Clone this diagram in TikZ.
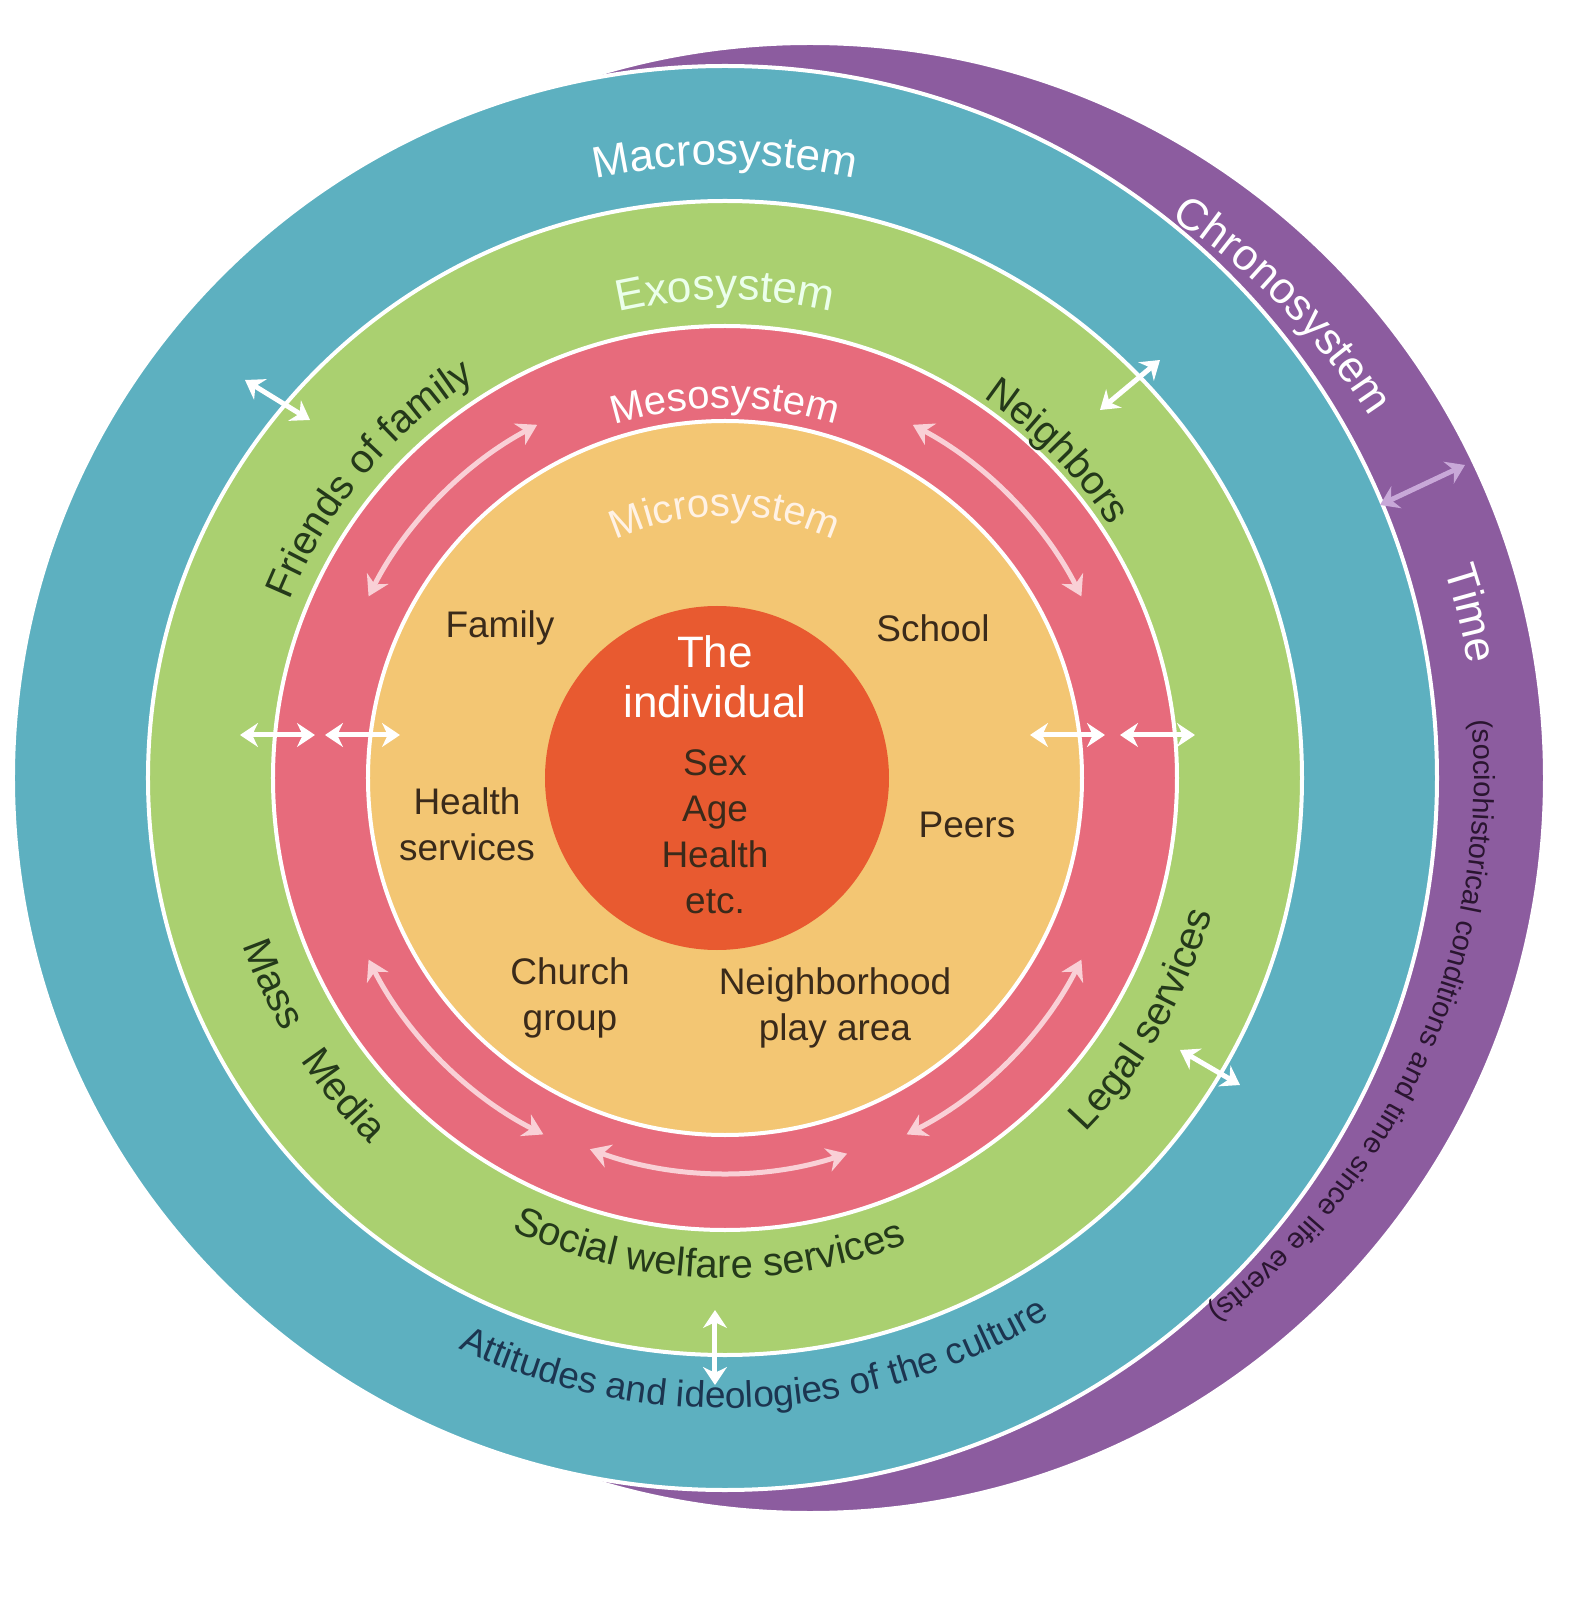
\documentclass[tikz,border=0pt]{standalone}
\usepackage{fontspec}
\setmainfont{Liberation Sans}
\usetikzlibrary{arrows.meta,decorations.text}
\definecolor{cblue}{HTML}{5DB0C0}
\definecolor{cgreen}{HTML}{AAD070}
\definecolor{cpink}{HTML}{E76B7C}
\definecolor{corange}{HTML}{F3C673}
\definecolor{cred}{HTML}{E85A30}
\definecolor{cpurple}{HTML}{8C5C9F}
\definecolor{cdark}{HTML}{3A2A1A}
\definecolor{cgtext}{HTML}{24391A}
\definecolor{cbtext}{HTML}{1C3550}
\definecolor{cptext}{HTML}{2A1530}
\definecolor{lpink}{HTML}{F9D0D6}
\definecolor{lpurple}{HTML}{C8A8D8}
\newcommand{\fA}{\fontsize{44}{50}\selectfont}
\newcommand{\fB}{\fontsize{40}{46}\selectfont}
\newcommand{\fC}{\fontsize{37}{46}\selectfont}
\newcommand{\fD}{\fontsize{29}{34}\selectfont}
\tikzset{
  ring/.style={draw=white,line width=4pt},
  curv/.style={decorate,decoration={text along path,text align=center,text format delimiters={|}{|},text={#1}}},
  curvl/.style={decorate,decoration={text along path,text align=left,text format delimiters={|}{|},text={#1}}},
  warrow/.style={white,line width=5pt,{Stealth[length=18pt,width=24pt]}-{Stealth[length=18pt,width=24pt]}},
  parrow/.style={lpink,line width=5pt,{Stealth[length=20pt,width=24pt]}-{Stealth[length=20pt,width=24pt]}},
  lbl/.style={text=cdark,font=\fC,align=center,inner sep=0pt}
}
\begin{document}
\begin{tikzpicture}[x=1pt,y=1pt]
\useasboundingbox (-725,-820) rectangle (851,778);
\fill[white] (-725,-820) rectangle (851,778);
% rings
\draw[ring,fill=cpurple] (85,0) circle[radius=735pt];
\draw[ring,fill=cblue] (0,0) circle[radius=712pt];
\draw[ring,fill=cgreen] (0,0) circle[radius=577pt];
\draw[ring,fill=cpink] (0,0) circle[radius=452pt];
\draw[ring,fill=corange] (0,0) circle[radius=357pt];
\fill[cred] (-8,0) circle[radius=172pt];
% curved titles
\path[curv={|\fA\color{white}|Macrosystem}] (150:613pt) arc[start angle=150,end angle=30,radius=613pt];
\path[curv={|\fA\color{white!92!green}|Exosystem}] (150:478pt) arc[start angle=150,end angle=30,radius=478pt];
\path[curv={|\fB\color{white}|Mesosystem}] (150:370pt) arc[start angle=150,end angle=30,radius=370pt];
\path[curv={|\fB\color{white!90!orange}|Microsystem}] (150:262pt) arc[start angle=150,end angle=30,radius=262pt];
% exosystem labels
\path[curv={|\fB\color{cgtext}|Friends of family}] (175:470pt) arc[start angle=175,end angle=105,radius=470pt];
\path[curv={|\fB\color{cgtext}|Neighbors}] (75:460pt) arc[start angle=75,end angle=14,radius=460pt];
\path[curv={|\fB\color{cgtext}|Mass\ \ \ Media}] (180:510pt) arc[start angle=180,end angle=245,radius=510pt];
\path[curv={|\fB\color{cgtext}|Legal services}] (-62:505pt) arc[start angle=-62,end angle=2,radius=505pt];
\path[curv={|\fB\color{cgtext}|Social welfare services}] (225:500pt) arc[start angle=225,end angle=311,radius=500pt];
\path[curv={|\fC\color{cbtext}|Attitudes and ideologies of the culture}] (230:630pt) arc[start angle=230,end angle=316,radius=630pt];
% chronosystem
\begin{scope}[shift={(85,0)}]
\path[curv={|\fA\color{white}|Chronosystem}] (70:666pt) arc[start angle=70,end angle=20,radius=666pt];
\path[curv={|\fA\color{white}|Time}] (22:668pt) arc[start angle=22,end angle=6,radius=668pt];
\path[curvl={|\fD\color{cptext}|(sociohistorical conditions and time since life events)}] (5:664pt) arc[start angle=5,end angle=-75,radius=664pt];
\end{scope}
% inner labels
\node[lbl] (fam) at (-225,150) {Family};
\node[lbl] (sch) at (208,150) {School};
\node[lbl] (hs) at (-258,-46) {Health\\services};
\node[lbl] (peer) at (242,-47) {Peers};
\node[lbl] (church) at (-155,-220) {Church\\group};
\node[lbl] (nb) at (110,-230) {Neighborhood\\play area};
\node[text=white,font=\fA,align=center,inner sep=0pt] (ind) at (-10,101) {The\\individual};
\node[lbl,text=cdark] (attr) at (-10,-54) {Sex\\Age\\Health\\etc.};
% white arrows
\coordinate (a1) at (-485,43); \coordinate (b1) at (-410,43);
\coordinate (a2) at (-400,43); \coordinate (b2) at (-325,43);
\coordinate (a3) at (305,43); \coordinate (b3) at (380,43);
\coordinate (a4) at (395,43); \coordinate (b4) at (470,43);
\coordinate (a5) at (-480,398); \coordinate (b5) at (-415,358);
\coordinate (a6) at (375,368); \coordinate (b6) at (435,418);
\coordinate (a7) at (455,-272); \coordinate (b7) at (515,-307);
\coordinate (a8) at (-10,-532); \coordinate (b8) at (-10,-607);
\coordinate (a9) at (655,273); \coordinate (b9) at (740,313);
\foreach \i in {1,...,8} \draw[warrow] (a\i) -- (b\i);
\draw[warrow,lpurple] (a9) -- (b9);
% pink arc arrows
\coordinate (p1) at (118:400pt); \coordinate (p2) at (27:400pt);
\coordinate (p3) at (207:400pt); \coordinate (p4) at (297:400pt);
\coordinate (p5) at (250:395pt);
\draw[parrow] (p1) arc[start angle=118,end angle=153,radius=400pt];
\draw[parrow] (p2) arc[start angle=27,end angle=62,radius=400pt];
\draw[parrow] (p3) arc[start angle=207,end angle=243,radius=400pt];
\draw[parrow] (p4) arc[start angle=297,end angle=333,radius=400pt];
\draw[parrow] (p5) arc[start angle=250,end angle=288,radius=395pt];
\end{tikzpicture}
\end{document}
